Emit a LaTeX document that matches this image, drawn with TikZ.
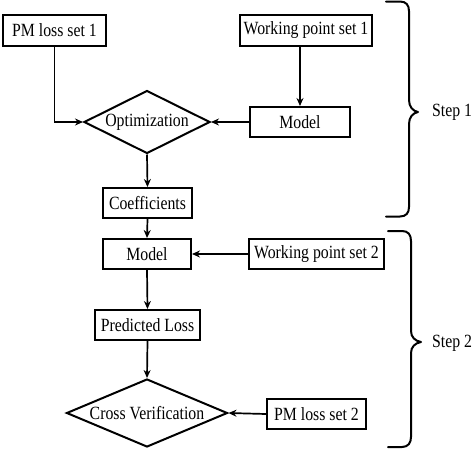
\documentclass[tikz,border=0pt]{standalone}
\usepackage{graphicx}
\usepackage{fontspec}
\setmainfont{Liberation Serif}
\usetikzlibrary{shapes.geometric,arrows.meta}
\newcommand\tallt[1]{\scalebox{1}[1.18]{#1}}
\begin{document}
\begin{tikzpicture}[x=1pt,y=-1pt,
  every node/.style={font=\fontsize{15.8}{19}\selectfont},
  box/.style={draw,line width=2pt,minimum height=30pt,inner sep=0pt},
  dia/.style={draw,line width=2pt,shape=diamond,inner sep=0pt},
  conn/.style={line width=1.7pt,-{Stealth[length=8pt,width=7pt]}},
  bracepath/.style={line width=2pt,line cap=round,line join=round},
  steplabel/.style={anchor=base west,inner sep=0pt}]
\useasboundingbox (0,0) rectangle (474,451);
\node[box,minimum width=103pt,minimum height=31pt] (pm1) at (54.5,30.5) {\tallt{PM loss set 1}};
\node[box,minimum width=132pt,minimum height=31pt] (wp1) at (306,30.5) {\tallt{Working point set 1}};
\node[dia,aspect=2,minimum width=126pt,minimum height=63pt] (opt) at (147,122) {\tallt{Optimization}};
\node[box,minimum width=100pt] (model1) at (300,122) {\tallt{Model}};
\node[box,minimum width=89pt] (coef) at (147.5,203) {\tallt{Coefficients}};
\node[box,minimum width=88pt] (model2) at (147,254) {\tallt{Model}};
\node[box,minimum width=135pt] (wp2) at (316.5,254) {\tallt{Working point set 2}};
\node[box,minimum width=105pt] (pred) at (147.5,325) {\tallt{Predicted Loss}};
\node[dia,aspect=2.37,minimum width=161pt,minimum height=68pt] (cv) at (147,413) {\tallt{Cross Verification}};
\node[box,minimum width=99pt] (pm2) at (316.5,414) {\tallt{PM loss set 2}};
\draw[conn] (pm1.south) |- (opt.west);
\draw[conn] (wp1.south -| model1.north) -- (model1.north);
\draw[conn] (model1.west) -- (opt.east);
\draw[conn] (opt.south) -- (coef.north);
\draw[conn] (coef.south) -- (model2.north);
\draw[conn] (wp2.west) -- (model2.east);
\draw[conn] (model2.south) -- (pred.north);
\draw[conn] (pred.south) -- (cv.north);
\draw[conn] (pm2.west) -- (cv.east);
% braces
\draw[bracepath] (386,1.5) -- (400,1.5) .. controls (406,1.5) and (409,5) .. (409,11)
  -- (409,100) .. controls (409,107) and (413,111) .. (418,112)
  .. controls (413,113) and (409,117) .. (409,124)
  -- (409,207) .. controls (409,213) and (406,216.5) .. (400,216.5) -- (386,216.5);
\draw[bracepath] (388,231) -- (402,231) .. controls (408,231) and (411,234.5) .. (411,241)
  -- (411,331) .. controls (411,337) and (415,341) .. (421,342)
  .. controls (415,343) and (411,347) .. (411,353)
  -- (411,437) .. controls (411,443) and (408,447) .. (402,447) -- (388,447);
\node[steplabel] (s1) at (432,116) {\tallt{Step 1}};
\node[steplabel] (s2) at (432,347) {\tallt{Step 2}};
\end{tikzpicture}
\end{document}
